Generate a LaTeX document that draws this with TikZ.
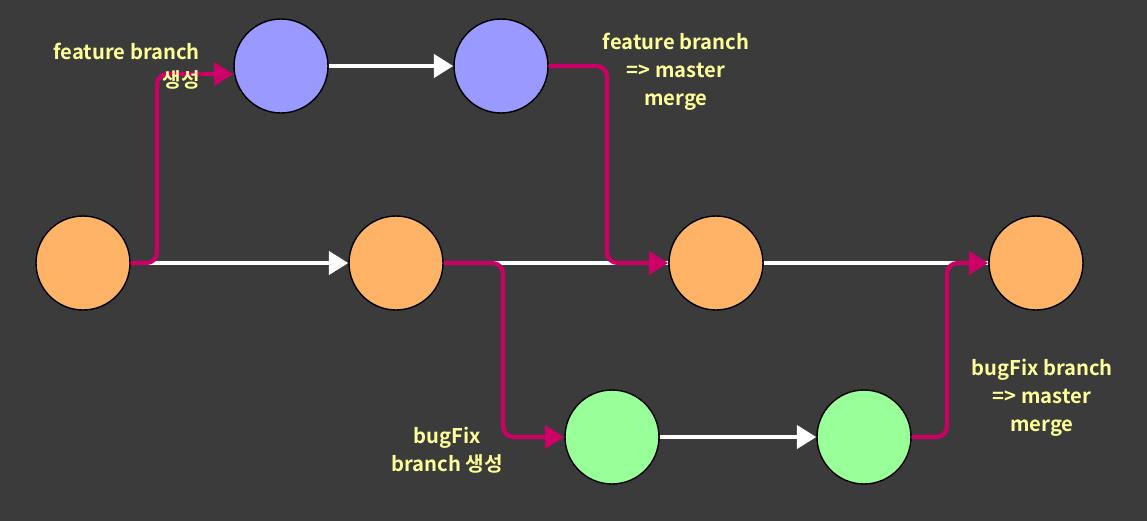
\documentclass[tikz,border=0pt]{standalone}
\usepackage{fontspec}
\setmainfont{Noto Sans CJK KR}[BoldFont={* Bold}]
\usetikzlibrary{arrows.meta}
\definecolor{bgc}{HTML}{3B3B3B}
\definecolor{orc}{HTML}{FFB366}
\definecolor{puc}{HTML}{9999FF}
\definecolor{grc}{HTML}{99FF99}
\definecolor{mgc}{HTML}{CC0066}
\definecolor{txc}{HTML}{FFFF99}
\tikzset{
  commit/.style={circle, draw=black, thick, minimum size=1.88cm, inner sep=0pt},
  flow/.style={draw=white, line width=2.4pt, -{Triangle[length=11pt,width=13pt]}},
  branch/.style={draw=mgc, line width=2.4pt, rounded corners=6pt, -{Triangle[length=11pt,width=13pt]}},
  note/.style={text=txc, font=\bfseries\fontsize{11.5}{16}\selectfont, align=center}
}
\begin{document}
\begin{tikzpicture}[x=0.02cm, y=-0.02cm]
\fill[bgc] (0,0) rectangle (1147,521);
\useasboundingbox (0,0) rectangle (1147,521);
% commits
\node[commit, fill=orc] (m1) at (83,263) {};
\node[commit, fill=orc] (m2) at (396,263) {};
\node[commit, fill=orc] (m3) at (716,263) {};
\node[commit, fill=orc] (m4) at (1036,263) {};
\node[commit, fill=puc] (f1) at (281,66) {};
\node[commit, fill=puc] (f2) at (501,66) {};
\node[commit, fill=grc] (b1) at (612,437) {};
\node[commit, fill=grc] (b2) at (864,437) {};
% main lines
\draw[flow] (m1) -- (m2);
\draw[flow] (f1) -- (f2);
\draw[flow] (b1) -- (b2);
\draw[white, line width=2.4pt] (m2) -- (m3);
\draw[white, line width=2.4pt] (m3) -- (m4);
% branch / merge
\draw[branch] (m1.east) -- (157,263) -- (157,74) -- (f1.west |- 0,74);
\draw[branch] (f2.east) -- (607,66) -- (607,263) -- (m3.west);
\draw[branch] (m2.east) -- (503,263) -- (503,437) -- (b1.west);
\draw[branch] (b2.east) -- (947,437) -- (947,263) -- (m4.west);
% labels
\node[note, align=right, anchor=east] (lf) at (206,66) {feature branch\\생성};
\node[note] (lfm) at (676,72) {feature branch\\=> master\\merge};
\node[note] (lb) at (447,450) {bugFix\\branch 생성};
\node[note] (lbm) at (1042,398) {bugFix branch\\=> master\\merge};
\end{tikzpicture}
\end{document}
